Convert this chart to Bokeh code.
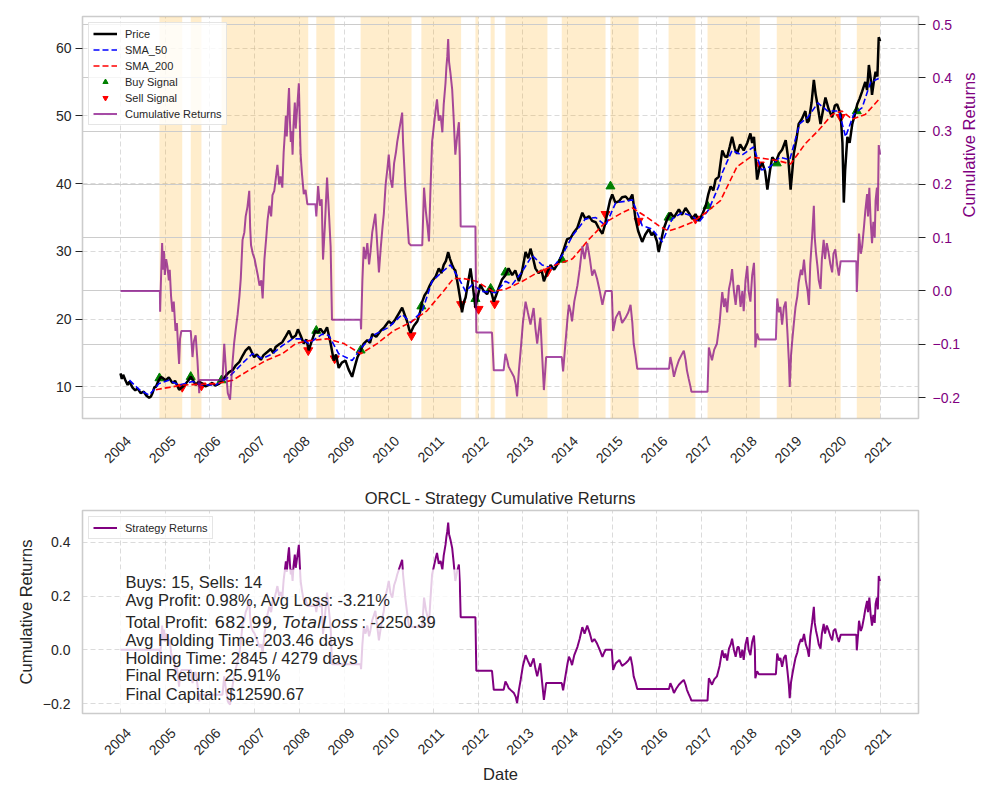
import math
import pandas as pd
from bokeh.plotting import figure
from bokeh.layouts import column
from bokeh.models import (Range1d, LinearAxis, FixedTicker, DatetimeTickFormatter,
                          CustomJSTickFormatter, BoxAnnotation, Label, Grid, Legend, LegendItem)
from bokeh.embed import file_html
from bokeh.resources import INLINE

# ---------------------------------------------------------------- data
# times are given in fractional years
price_t = [2004.00, 2004.03, 2004.06, 2004.11, 2004.16, 2004.20, 2004.27, 2004.33, 2004.38, 2004.45,
           2004.52, 2004.58, 2004.64, 2004.68, 2004.72, 2004.76, 2004.79, 2004.84, 2004.90, 2004.95,
           2005.01, 2005.08, 2005.16, 2005.22, 2005.31, 2005.38, 2005.46, 2005.52, 2005.57, 2005.62,
           2005.68, 2005.75, 2005.83, 2005.90, 2005.98, 2006.05, 2006.12, 2006.21, 2006.28, 2006.36,
           2006.43, 2006.51, 2006.58, 2006.66, 2006.73, 2006.80, 2006.88, 2006.93, 2006.99, 2007.05,
           2007.14, 2007.20, 2007.29, 2007.36, 2007.42, 2007.47, 2007.55, 2007.62, 2007.70, 2007.77,
           2007.84, 2007.92, 2007.97, 2008.03, 2008.10, 2008.16, 2008.21, 2008.28, 2008.36, 2008.42,
           2008.47, 2008.55, 2008.62, 2008.70, 2008.77, 2008.82, 2008.88, 2008.95, 2009.03, 2009.10,
           2009.18, 2009.24, 2009.30, 2009.37, 2009.44, 2009.52, 2009.58, 2009.63, 2009.72, 2009.82,
           2009.90, 2010.00, 2010.07, 2010.15, 2010.22, 2010.30, 2010.36, 2010.41, 2010.46, 2010.49,
           2010.56, 2010.64, 2010.70, 2010.75, 2010.80, 2010.86, 2010.92, 2010.97, 2011.05, 2011.12,
           2011.18, 2011.23, 2011.28, 2011.33, 2011.37, 2011.42, 2011.46, 2011.49, 2011.55, 2011.60,
           2011.64, 2011.68, 2011.72, 2011.77, 2011.83, 2011.88, 2011.94, 2011.98, 2012.05, 2012.12,
           2012.20, 2012.27, 2012.35, 2012.40, 2012.46, 2012.53, 2012.61, 2012.68, 2012.76, 2012.83,
           2012.91, 2012.98, 2013.06, 2013.12, 2013.17, 2013.22, 2013.28, 2013.35, 2013.42, 2013.47,
           2013.55, 2013.62, 2013.70, 2013.81, 2013.90, 2013.99, 2014.07, 2014.14, 2014.22, 2014.33,
           2014.40, 2014.48, 2014.55, 2014.63, 2014.70, 2014.78, 2014.84, 2014.89, 2014.95, 2015.00,
           2015.07, 2015.15, 2015.22, 2015.30, 2015.38, 2015.45, 2015.52, 2015.58, 2015.67, 2015.74,
           2015.82, 2015.88, 2015.93, 2016.00, 2016.04, 2016.10, 2016.15, 2016.22, 2016.30, 2016.38,
           2016.49, 2016.56, 2016.64, 2016.72, 2016.79, 2016.86, 2016.94, 2017.02, 2017.09, 2017.15,
           2017.20, 2017.26, 2017.31, 2017.38, 2017.46, 2017.52, 2017.57, 2017.63, 2017.68, 2017.74,
           2017.79, 2017.86, 2017.94, 2018.02, 2018.09, 2018.13, 2018.17, 2018.24, 2018.30, 2018.36,
           2018.42, 2018.47, 2018.53, 2018.58, 2018.66, 2018.73, 2018.80, 2018.88, 2018.94, 2018.99,
           2019.03, 2019.06, 2019.12, 2019.17, 2019.24, 2019.32, 2019.36, 2019.40, 2019.46, 2019.51,
           2019.55, 2019.59, 2019.63, 2019.66, 2019.72, 2019.77, 2019.84, 2019.92, 2019.98, 2020.03,
           2020.08, 2020.11, 2020.15, 2020.18, 2020.21, 2020.26, 2020.31, 2020.37, 2020.42, 2020.48,
           2020.53, 2020.59, 2020.66, 2020.70, 2020.74, 2020.78, 2020.81, 2020.85, 2020.89, 2020.93,
           2020.96, 2020.99]
price_v = [12.0, 11.2, 11.8, 11.0, 10.3, 10.8, 9.9, 9.5, 9.8, 9.1,
           9.3, 8.7, 8.4, 8.6, 9.2, 10.0, 10.0, 10.8, 11.5, 11.3,
           11.0, 11.4, 10.6, 10.9, 9.6, 10.0, 10.5, 11.0, 11.5, 11.0,
           10.3, 10.8, 10.5, 10.1, 10.3, 10.6, 10.2, 10.5, 11.0, 11.7,
           12.2, 12.5, 13.2, 13.7, 14.6, 15.4, 15.9, 15.2, 14.4, 14.8,
           14.0, 14.7, 15.2, 15.6, 15.0, 15.9, 16.3, 16.6, 17.5, 18.3,
           17.2, 17.6, 18.5, 17.6, 16.4, 17.0, 15.4, 16.8, 18.3, 18.0,
           18.6, 17.9, 18.8, 16.4, 13.9, 14.8, 12.8, 13.6, 13.9, 12.6,
           11.5, 13.0, 14.4, 15.4, 16.4, 16.9, 16.5, 17.8, 17.4, 18.3,
           18.8, 19.7, 19.3, 20.0, 20.8, 21.7, 20.6, 19.7, 18.4, 18.0,
           19.0, 19.7, 21.0, 22.6, 23.5, 24.1, 25.0, 25.6, 26.3, 27.5,
           26.8, 28.0, 28.6, 29.9, 28.9, 28.0, 27.4, 27.2, 25.0, 23.0,
           21.0, 22.5, 23.2, 25.2, 27.5, 25.0, 21.7, 23.0, 25.1, 24.2,
           23.7, 24.6, 22.6, 23.5, 24.6, 25.8, 26.5, 27.5, 26.5, 27.2,
           25.6, 27.0, 29.9, 29.0, 30.4, 29.2, 27.5, 26.8, 27.2, 25.6,
           27.0, 28.0, 27.3, 28.5, 30.0, 31.8, 32.0, 32.8, 33.5, 35.7,
           34.8, 35.2, 34.5, 34.3, 33.4, 32.6, 34.0, 35.7, 37.5, 38.4,
           37.2, 37.4, 38.0, 38.1, 37.5, 38.4, 34.8, 33.0, 31.4, 32.5,
           33.3, 32.4, 32.8, 31.5, 29.9, 31.8, 33.3, 34.6, 35.7, 35.0,
           36.2, 35.4, 36.4, 35.6, 34.8, 35.5, 34.5, 35.6, 36.7, 38.5,
           39.6, 39.0, 40.6, 41.0, 44.9, 44.0, 43.9, 45.5, 46.9, 45.2,
           44.4, 45.8, 44.9, 46.0, 47.4, 46.0, 46.9, 40.6, 42.5, 43.0,
           41.8, 39.1, 42.0, 43.9, 43.2, 44.4, 45.0, 46.4, 43.5, 39.1,
           42.0, 44.4, 46.5, 48.8, 49.5, 50.7, 49.0, 49.3, 52.0, 55.3,
           53.2, 51.7, 50.0, 48.8, 51.0, 52.7, 51.0, 49.8, 51.5, 51.7,
           50.8, 50.2, 46.0, 37.2, 42.0, 46.9, 46.0, 48.8, 50.0, 51.7,
           52.5, 53.6, 55.0, 53.8, 57.5, 55.5, 53.1, 55.0, 56.5, 55.8,
           61.6, 61.0]

sma50_t = [2004.20, 2004.42, 2004.64, 2004.86, 2005.08, 2005.31, 2005.61, 2005.83, 2006.13, 2006.43,
           2006.73, 2006.95, 2007.18, 2007.40, 2007.62, 2007.85, 2008.06, 2008.21, 2008.51, 2008.66,
           2008.88, 2009.18, 2009.40, 2009.70, 2010.00, 2010.30, 2010.49, 2010.75, 2010.97, 2011.20,
           2011.38, 2011.57, 2011.72, 2011.87, 2012.09, 2012.39, 2012.61, 2012.76, 2012.98, 2013.21,
           2013.43, 2013.66, 2013.88, 2014.11, 2014.40, 2014.63, 2014.85, 2015.08, 2015.30, 2015.45,
           2015.67, 2015.89, 2016.12, 2016.34, 2016.56, 2016.79, 2016.94, 2017.16, 2017.38, 2017.46,
           2017.68, 2017.90, 2018.16, 2018.34, 2018.53, 2018.75, 2018.97, 2019.19, 2019.38, 2019.60,
           2019.82, 2020.07, 2020.22, 2020.40, 2020.59, 2020.78, 2020.96]
sma50_v = [11.0, 9.6, 8.8, 10.5, 11.0, 10.3, 10.8, 10.3, 10.3, 11.5,
           13.5, 14.9, 14.2, 14.9, 16.1, 17.1, 17.1, 16.4, 17.8, 17.6,
           14.9, 13.9, 15.9, 17.8, 18.8, 20.7, 19.5, 21.2, 25.6, 27.0,
           28.0, 26.0, 24.1, 25.1, 24.1, 23.9, 25.6, 25.1, 27.0, 29.4,
           28.0, 27.5, 29.4, 32.3, 34.8, 35.0, 33.8, 37.2, 37.4, 37.6,
           33.8, 33.3, 31.4, 34.8, 35.7, 35.2, 34.3, 36.2, 39.6, 41.6,
           44.9, 44.2, 45.4, 42.0, 42.5, 43.9, 43.5, 48.8, 49.8, 51.9,
           50.7, 50.7, 46.9, 50.2, 51.2, 55.0, 55.5]

sma200_t = [2004.79, 2005.40, 2006.15, 2006.51, 2006.88, 2007.25, 2007.62, 2007.92, 2008.18, 2008.62,
            2009.00, 2009.37, 2009.74, 2010.11, 2010.48, 2010.85, 2011.22, 2011.45, 2011.67, 2011.96,
            2012.33, 2012.61, 2012.99, 2013.36, 2013.73, 2014.11, 2014.48, 2014.85, 2015.22, 2015.45,
            2015.74, 2016.04, 2016.26, 2016.49, 2016.79, 2017.09, 2017.42, 2017.79, 2018.09, 2018.39,
            2018.69, 2018.99, 2019.32, 2019.62, 2019.92, 2020.14, 2020.37, 2020.66, 2020.96]
sma200_v = [9.6, 10.3, 10.5, 11.0, 12.5, 13.9, 14.9, 16.4, 16.8, 17.1,
            16.4, 14.9, 16.4, 18.3, 19.5, 21.2, 24.1, 26.0, 26.0, 25.6,
            24.1, 24.4, 25.6, 27.0, 28.0, 28.9, 31.8, 34.3, 35.7, 36.4,
            35.2, 33.8, 33.0, 33.5, 34.3, 35.7, 37.5, 42.5, 43.9, 43.7,
            43.4, 42.9, 45.9, 47.9, 50.2, 50.7, 49.5, 50.2, 52.4]

ret_t = [2004.00, 2004.88, 2004.885, 2004.90, 2004.93, 2004.95, 2004.97, 2004.99, 2005.02, 2005.05,
         2005.08, 2005.10, 2005.13, 2005.16, 2005.19, 2005.23, 2005.26, 2005.29, 2005.31, 2005.33,
         2005.36, 2005.57, 2005.61, 2005.64, 2005.68, 2005.72, 2005.76, 2005.77, 2006.28, 2006.32,
         2006.36, 2006.40, 2006.45, 2006.50, 2006.54, 2006.58, 2006.62, 2006.66, 2006.69, 2006.73,
         2006.77, 2006.80, 2006.84, 2006.88, 2006.90, 2006.92, 2006.96, 2007.00, 2007.03, 2007.07,
         2007.11, 2007.15, 2007.18, 2007.22, 2007.26, 2007.29, 2007.33, 2007.37, 2007.40, 2007.44,
         2007.48, 2007.51, 2007.55, 2007.58, 2007.62, 2007.65, 2007.68, 2007.70, 2007.72, 2007.75,
         2007.77, 2007.79, 2007.81, 2007.83, 2007.85, 2007.87, 2007.90, 2007.92, 2007.95, 2007.99,
         2008.01, 2008.03, 2008.06, 2008.10, 2008.14, 2008.18, 2008.36, 2008.38, 2008.42, 2008.46,
         2008.50, 2008.53, 2008.57, 2008.62, 2008.66, 2008.70, 2008.73, 2009.37, 2009.38, 2009.41,
         2009.44, 2009.48, 2009.52, 2009.56, 2009.59, 2009.63, 2009.67, 2009.70, 2009.74, 2009.78,
         2009.82, 2009.86, 2009.89, 2009.93, 2009.97, 2010.00, 2010.04, 2010.08, 2010.12, 2010.16,
         2010.19, 2010.23, 2010.27, 2010.30, 2010.32, 2010.35, 2010.37, 2010.41, 2010.45, 2010.49,
         2010.75, 2010.79, 2010.83, 2010.87, 2010.90, 2010.93, 2010.97, 2011.01, 2011.05, 2011.08,
         2011.12, 2011.16, 2011.20, 2011.23, 2011.27, 2011.29, 2011.31, 2011.33, 2011.35, 2011.38,
         2011.42, 2011.45, 2011.49, 2011.53, 2011.57, 2011.59, 2011.61, 2011.94, 2011.96, 2012.31,
         2012.35, 2012.57, 2012.61, 2012.65, 2012.68, 2012.73, 2012.80, 2012.84, 2012.87, 2012.91,
         2012.95, 2013.00, 2013.06, 2013.11, 2013.17, 2013.21, 2013.24, 2013.28, 2013.32, 2013.36,
         2013.39, 2013.43, 2013.47, 2013.50, 2013.52, 2013.87, 2013.90, 2013.95, 2014.00, 2014.03,
         2014.07, 2014.10, 2014.15, 2014.22, 2014.27, 2014.33, 2014.38, 2014.44, 2014.50, 2014.55,
         2014.60, 2014.66, 2014.72, 2014.78, 2014.82, 2014.85, 2014.99, 2015.02, 2015.08, 2015.16,
         2015.22, 2015.30, 2015.36, 2015.41, 2015.45, 2015.48, 2015.52, 2015.56, 2016.27, 2016.30,
         2016.34, 2016.38, 2016.43, 2016.49, 2016.55, 2016.60, 2016.64, 2016.67, 2016.71, 2016.75,
         2016.77, 2017.13, 2017.16, 2017.20, 2017.23, 2017.28, 2017.34, 2017.40, 2017.43, 2017.46,
         2017.50, 2017.53, 2017.57, 2017.61, 2017.65, 2017.68, 2017.72, 2017.76, 2017.80, 2017.83,
         2017.87, 2017.91, 2017.94, 2017.98, 2018.02, 2018.05, 2018.09, 2018.13, 2018.17, 2018.19,
         2018.20, 2018.24, 2018.28, 2018.66, 2018.69, 2018.73, 2018.76, 2018.80, 2018.84, 2018.88,
         2018.92, 2018.95, 2018.97, 2019.00, 2019.03, 2019.06, 2019.10, 2019.14, 2019.17, 2019.22,
         2019.25, 2019.29, 2019.33, 2019.37, 2019.40, 2019.43, 2019.47, 2019.49, 2019.51, 2019.53,
         2019.56, 2019.59, 2019.62, 2019.66, 2019.69, 2019.73, 2019.76, 2019.80, 2019.84, 2019.88,
         2019.92, 2019.95, 2019.99, 2020.03, 2020.07, 2020.11, 2020.46, 2020.47, 2020.50, 2020.52,
         2020.56, 2020.59, 2020.63, 2020.66, 2020.70, 2020.72, 2020.75, 2020.78, 2020.81, 2020.84,
         2020.87, 2020.89, 2020.92, 2020.94, 2020.96, 2020.99]
ret_v = [0.000, 0.000, -0.039, 0.010, 0.090, 0.040, 0.075, 0.030, 0.060, 0.045,
         0.020, 0.040, -0.010, -0.039, -0.020, -0.075, -0.060, -0.110, -0.137, -0.090,
         -0.075, -0.075, -0.124, -0.095, -0.083, -0.130, -0.192, -0.167, -0.167, -0.099,
         -0.150, -0.192, -0.204, -0.140, -0.099, -0.070, -0.044, -0.010, 0.023, 0.096,
         0.110, 0.140, 0.158, 0.188, 0.120, 0.086, 0.070, 0.060, 0.047, 0.030,
         0.010, 0.020, -0.014, 0.060, 0.100, 0.133, 0.160, 0.140, 0.180, 0.188,
         0.215, 0.237, 0.200, 0.215, 0.194, 0.260, 0.300, 0.329, 0.290, 0.350,
         0.381, 0.320, 0.280, 0.300, 0.256, 0.310, 0.354, 0.305, 0.340, 0.390,
         0.320, 0.256, 0.220, 0.182, 0.190, 0.163, 0.163, 0.140, 0.197, 0.160,
         0.172, 0.059, 0.120, 0.213, 0.150, 0.083, -0.054, -0.054, -0.072, 0.020,
         0.083, 0.060, 0.090, 0.050, 0.072, 0.110, 0.130, 0.145, 0.090, 0.035,
         0.080, 0.120, 0.145, 0.200, 0.230, 0.256, 0.210, 0.194, 0.240, 0.260,
         0.280, 0.300, 0.320, 0.335, 0.280, 0.230, 0.194, 0.140, 0.090, 0.086,
         0.086, 0.194, 0.150, 0.120, 0.093, 0.180, 0.280, 0.310, 0.340, 0.360,
         0.320, 0.330, 0.298, 0.350, 0.390, 0.420, 0.440, 0.473, 0.430, 0.410,
         0.378, 0.330, 0.256, 0.290, 0.317, 0.250, 0.121, 0.121, -0.078, -0.078,
         -0.149, -0.149, -0.118, -0.130, -0.142, -0.150, -0.161, -0.175, -0.198, -0.150,
         -0.112, -0.060, -0.020, -0.040, -0.063, -0.045, -0.032, -0.070, -0.099, -0.070,
         -0.050, -0.120, -0.186, -0.150, -0.124, -0.124, -0.151, -0.100, -0.050, -0.026,
         -0.040, -0.057, -0.020, 0.010, 0.040, 0.084, 0.060, 0.090, 0.060, 0.029,
         0.040, 0.023, 0.000, -0.026, -0.010, 0.000, 0.000, -0.075, -0.050, -0.038,
         -0.060, -0.050, -0.040, -0.026, -0.060, -0.099, -0.120, -0.146, -0.146, -0.124,
         -0.140, -0.161, -0.145, -0.130, -0.120, -0.112, -0.130, -0.149, -0.165, -0.180,
         -0.189, -0.189, -0.106, -0.120, -0.130, -0.110, -0.099, -0.060, -0.030, -0.002,
         -0.030, -0.014, -0.040, 0.004, 0.020, 0.041, 0.000, -0.026, 0.010, 0.010,
         -0.030, 0.000, -0.038, 0.020, 0.047, 0.000, -0.020, 0.030, 0.053, 0.000,
         -0.106, -0.080, -0.091, -0.091, -0.014, -0.040, -0.030, -0.063, -0.030, -0.020,
         -0.080, -0.130, -0.180, -0.120, -0.090, -0.063, -0.030, -0.010, 0.016, 0.040,
         0.030, 0.059, 0.020, 0.000, -0.026, 0.050, 0.100, 0.130, 0.160, 0.100,
         0.070, 0.047, 0.020, 0.004, 0.060, 0.096, 0.060, 0.090, 0.072, 0.050,
         0.035, 0.070, 0.078, 0.050, 0.029, 0.056, 0.056, -0.002, 0.060, 0.108,
         0.070, 0.084, 0.120, 0.150, 0.182, 0.140, 0.194, 0.130, 0.090, 0.130,
         0.100, 0.170, 0.194, 0.150, 0.274, 0.256]

buy_t = [2004.87, 2005.57, 2006.26, 2008.38, 2009.37, 2010.73, 2011.94, 2012.28,
         2012.61, 2013.87, 2014.96, 2016.26, 2017.13, 2018.68, 2020.47]
buy_p = [11.3, 11.5, 11.0, 18.3, 15.4, 21.9, 23.0, 24.5,
         26.9, 28.8, 39.6, 35.0, 36.7, 43.0, 50.7]
sell_t = [2005.38, 2005.81, 2008.20, 2008.79, 2010.51, 2011.62, 2012.01,
          2012.37, 2013.55, 2014.85, 2015.59, 2016.86, 2018.30, 2020.11]
sell_p = [10.0, 10.2, 15.4, 14.2, 17.6, 22.2, 21.5,
          22.3, 27.0, 35.5, 34.5, 34.8, 42.8, 49.8]

year_ticks = list(range(2004, 2022))
price_ticks = [10, 20, 30, 40, 50, 60]
ret_ticks = [-0.2, -0.1, 0.0, 0.1, 0.2, 0.3, 0.4, 0.5]
strat_ticks = [-0.2, 0.0, 0.2, 0.4]

stats_lines = [
    "Buys: 15, Sells: 14",
    "Avg Profit: 0.98%, Avg Loss: -3.21%",
    None,  # profit / loss line, set in mixed fonts below
    "Avg Holding Time: 203.46 days",
    "Holding Time: 2845 / 4279 days",
    "Final Return: 25.91%",
    "Final Capital: $12590.67",
]
stats_y = [0.2515, 0.1835, 0.1029, 0.035, -0.0307, -0.095, -0.163]


# ---------------------------------------------------------------- helpers
def to_dt(years):
    stamps = []
    for t in years:
        y = int(math.floor(t))
        start = pd.Timestamp(year=y, month=1, day=1)
        nxt = pd.Timestamp(year=y + 1, month=1, day=1)
        stamps.append(start + (nxt - start) * (t - y))
    return pd.DatetimeIndex(stamps)


def to_ms(years):
    return [ts.value / 1e6 for ts in to_dt(years)]


FONT = "Liberation Sans"
TXT = "#262626"
FRAME = "#cccccc"
minus_fmt = CustomJSTickFormatter(code="return tick.toFixed(1).replace('-', '\\u2212');")
year_fmt = DatetimeTickFormatter(years="%Y", months="%Y", days="%Y", hours="%Y")
x_lo, x_hi = to_ms([2003.15, 2021.85])
year_ms = to_ms(year_ticks)
# rotated year labels are right-aligned by Bokeh; nudge their anchors so each
# label sits centred under its gridline
label_ms = [t + 65 * 86400 * 1000 for t in year_ms]


def style_axis(ax, size="14px", color=TXT):
    ax.major_label_text_font = FONT
    ax.major_label_text_font_size = size
    ax.major_label_text_color = color
    ax.axis_label_text_font = FONT
    ax.axis_label_text_font_size = "16.5px"
    ax.axis_label_text_font_style = "normal"
    ax.axis_line_color = None
    ax.minor_tick_line_color = None
    ax.major_tick_line_color = None


def style_legend(lg):
    lg.label_text_font = FONT
    lg.label_text_font_size = "11px"
    lg.label_text_color = TXT
    lg.location = "top_left"
    lg.margin = 6
    lg.padding = 4
    lg.spacing = 3
    lg.glyph_width = 24
    lg.glyph_height = 13
    lg.label_height = 13
    lg.label_standoff = 8
    lg.border_line_color = FRAME
    lg.border_line_width = 1
    lg.background_fill_alpha = 0.8


# ---------------------------------------------------------------- price panel
p1 = figure(width=1000, height=470, x_axis_type="datetime", output_backend="svg",
            toolbar_location=None, x_range=Range1d(x_lo, x_hi), y_range=Range1d(5.35, 64.65),
            min_border_left=82, min_border_right=82, min_border_top=16, min_border_bottom=46)
p1.extra_y_ranges = {"ret": Range1d(-0.2394, 0.5154)}
p1.outline_line_color = FRAME
p1.outline_line_width = 1.6

# holding periods
span_start = to_ms(buy_t)
span_end = to_ms(sell_t + [price_t[-1]])
for a, b in zip(span_start, span_end):
    p1.add_layout(BoxAnnotation(left=a, right=b, fill_color="orange", fill_alpha=0.2,
                                line_color=None, level="underlay"))

r_buy = p1.scatter(to_dt(buy_t), buy_p, marker="triangle", size=9, color="green")
r_sell = p1.scatter(to_dt(sell_t), sell_p, marker="inverted_triangle", size=9, color="red")
r_price = p1.line(to_dt(price_t), price_v, color="black", line_width=2.5)
r_sma50 = p1.line(to_dt(sma50_t), sma50_v, color="blue", line_width=1.6, line_dash="6 3")
r_sma200 = p1.line(to_dt(sma200_t), sma200_v, color="red", line_width=1.6, line_dash="6 3")
r_ret = p1.line(to_dt(ret_t), ret_v, y_range_name="ret", color="purple", line_alpha=0.7, line_width=2)

legend1 = Legend(items=[LegendItem(label="Price", renderers=[r_price]),
                        LegendItem(label="SMA_50", renderers=[r_sma50]),
                        LegendItem(label="SMA_200", renderers=[r_sma200]),
                        LegendItem(label="Buy Signal", renderers=[r_buy]),
                        LegendItem(label="Sell Signal", renderers=[r_sell]),
                        LegendItem(label="Cumulative Returns", renderers=[r_ret])])
style_legend(legend1)
p1.add_layout(legend1)

p1.xaxis.ticker = FixedTicker(ticks=label_ms)
p1.xaxis.formatter = year_fmt
p1.xaxis.major_label_orientation = math.pi / 4
p1.xaxis.major_label_standoff = 14
style_axis(p1.xaxis[0])
p1.xgrid.ticker = FixedTicker(ticks=year_ms)

p1.yaxis.ticker = FixedTicker(ticks=price_ticks)
style_axis(p1.yaxis[0])
p1.yaxis.major_tick_line_color = TXT
p1.yaxis.major_tick_out = 7
p1.yaxis.major_tick_in = 0
p1.yaxis.major_label_standoff = 4

right = LinearAxis(y_range_name="ret", axis_label="Cumulative Returns",
                   ticker=FixedTicker(ticks=ret_ticks), formatter=minus_fmt)
style_axis(right, color="purple")
right.axis_label_text_color = "purple"
right.major_tick_line_color = TXT
right.major_tick_out = 7
right.major_tick_in = 0
right.major_label_standoff = 7
right.axis_label_standoff = 6
try:
    right.axis_label_orientation = math.pi / 2
except Exception:
    pass
p1.add_layout(right, "right")

for g in (p1.xgrid, p1.ygrid):
    g.grid_line_color = FRAME
    g.grid_line_alpha = 0.7
    g.grid_line_dash = "5 3"
p1.add_layout(Grid(dimension=1, ticker=FixedTicker(ticks=ret_ticks), y_range_name="ret",
                   grid_line_color=FRAME, grid_line_width=1.2))

# ---------------------------------------------------------------- strategy panel
p2 = figure(width=1000, height=330, x_axis_type="datetime", output_backend="svg",
            toolbar_location=None, x_range=p1.x_range, y_range=Range1d(-0.237, 0.518),
            title="ORCL - Strategy Cumulative Returns",
            min_border_left=82, min_border_right=82, min_border_top=40, min_border_bottom=87)
p2.outline_line_color = FRAME
p2.outline_line_width = 1.6
p2.title.align = "center"
p2.title.text_font = FONT
p2.title.text_font_size = "16.5px"
p2.title.text_font_style = "normal"
p2.title.text_color = TXT
p2.title.standoff = 8

p2.line(to_dt(ret_t), ret_v, color="purple", line_width=2, legend_label="Strategy Returns")

p2.xaxis.ticker = FixedTicker(ticks=label_ms)
p2.xaxis.formatter = year_fmt
p2.xaxis.major_label_orientation = math.pi / 4
p2.xaxis.major_label_standoff = 11
p2.xaxis.axis_label = "Date"
style_axis(p2.xaxis[0])
p2.xaxis.axis_label_text_color = TXT
p2.xaxis.axis_label_standoff = 2
p2.xgrid.ticker = FixedTicker(ticks=year_ms)

p2.yaxis.ticker = FixedTicker(ticks=strat_ticks)
p2.yaxis.formatter = minus_fmt
p2.yaxis.axis_label = "Cumulative Returns"
style_axis(p2.yaxis[0])
p2.yaxis.axis_label_text_color = TXT
p2.yaxis.major_label_standoff = 6
p2.yaxis.axis_label_standoff = 5

for g in (p2.xgrid, p2.ygrid):
    g.grid_line_color = FRAME
    g.grid_line_alpha = 0.7
    g.grid_line_dash = "5 3"

style_legend(p2.legend[0])

# summary box
box_l, box_r = to_ms([2003.99, 2011.57])
p2.add_layout(BoxAnnotation(left=box_l, right=box_r, top=0.299, bottom=-0.21,
                            fill_color="white", fill_alpha=0.8, line_color=None, level="annotation"))
text_x = to_ms([2004.11])[0]
for line, y in zip(stats_lines, stats_y):
    if line is None:
        parts = [("Total Profit: ", FONT, "normal", 0),
                 ("682.99,", "DejaVu Sans", "normal", 89),
                 ("TotalLoss", "DejaVu Sans", "italic", 157),
                 (": -2250.39", FONT, "normal", 236)]
        for txt, fnt, style, off in parts:
            p2.add_layout(Label(x=text_x, y=y, x_offset=off, text=txt, text_font=fnt,
                                text_font_style=style, text_font_size="16.5px",
                                text_color=TXT, text_baseline="middle", text_align="left"))
    else:
        p2.add_layout(Label(x=text_x, y=y, text=line, text_font=FONT, text_font_size="16.5px",
                            text_color=TXT, text_baseline="middle", text_align="left"))

layout = column(p1, p2)
open("out.html", "w").write(file_html(layout, INLINE))
